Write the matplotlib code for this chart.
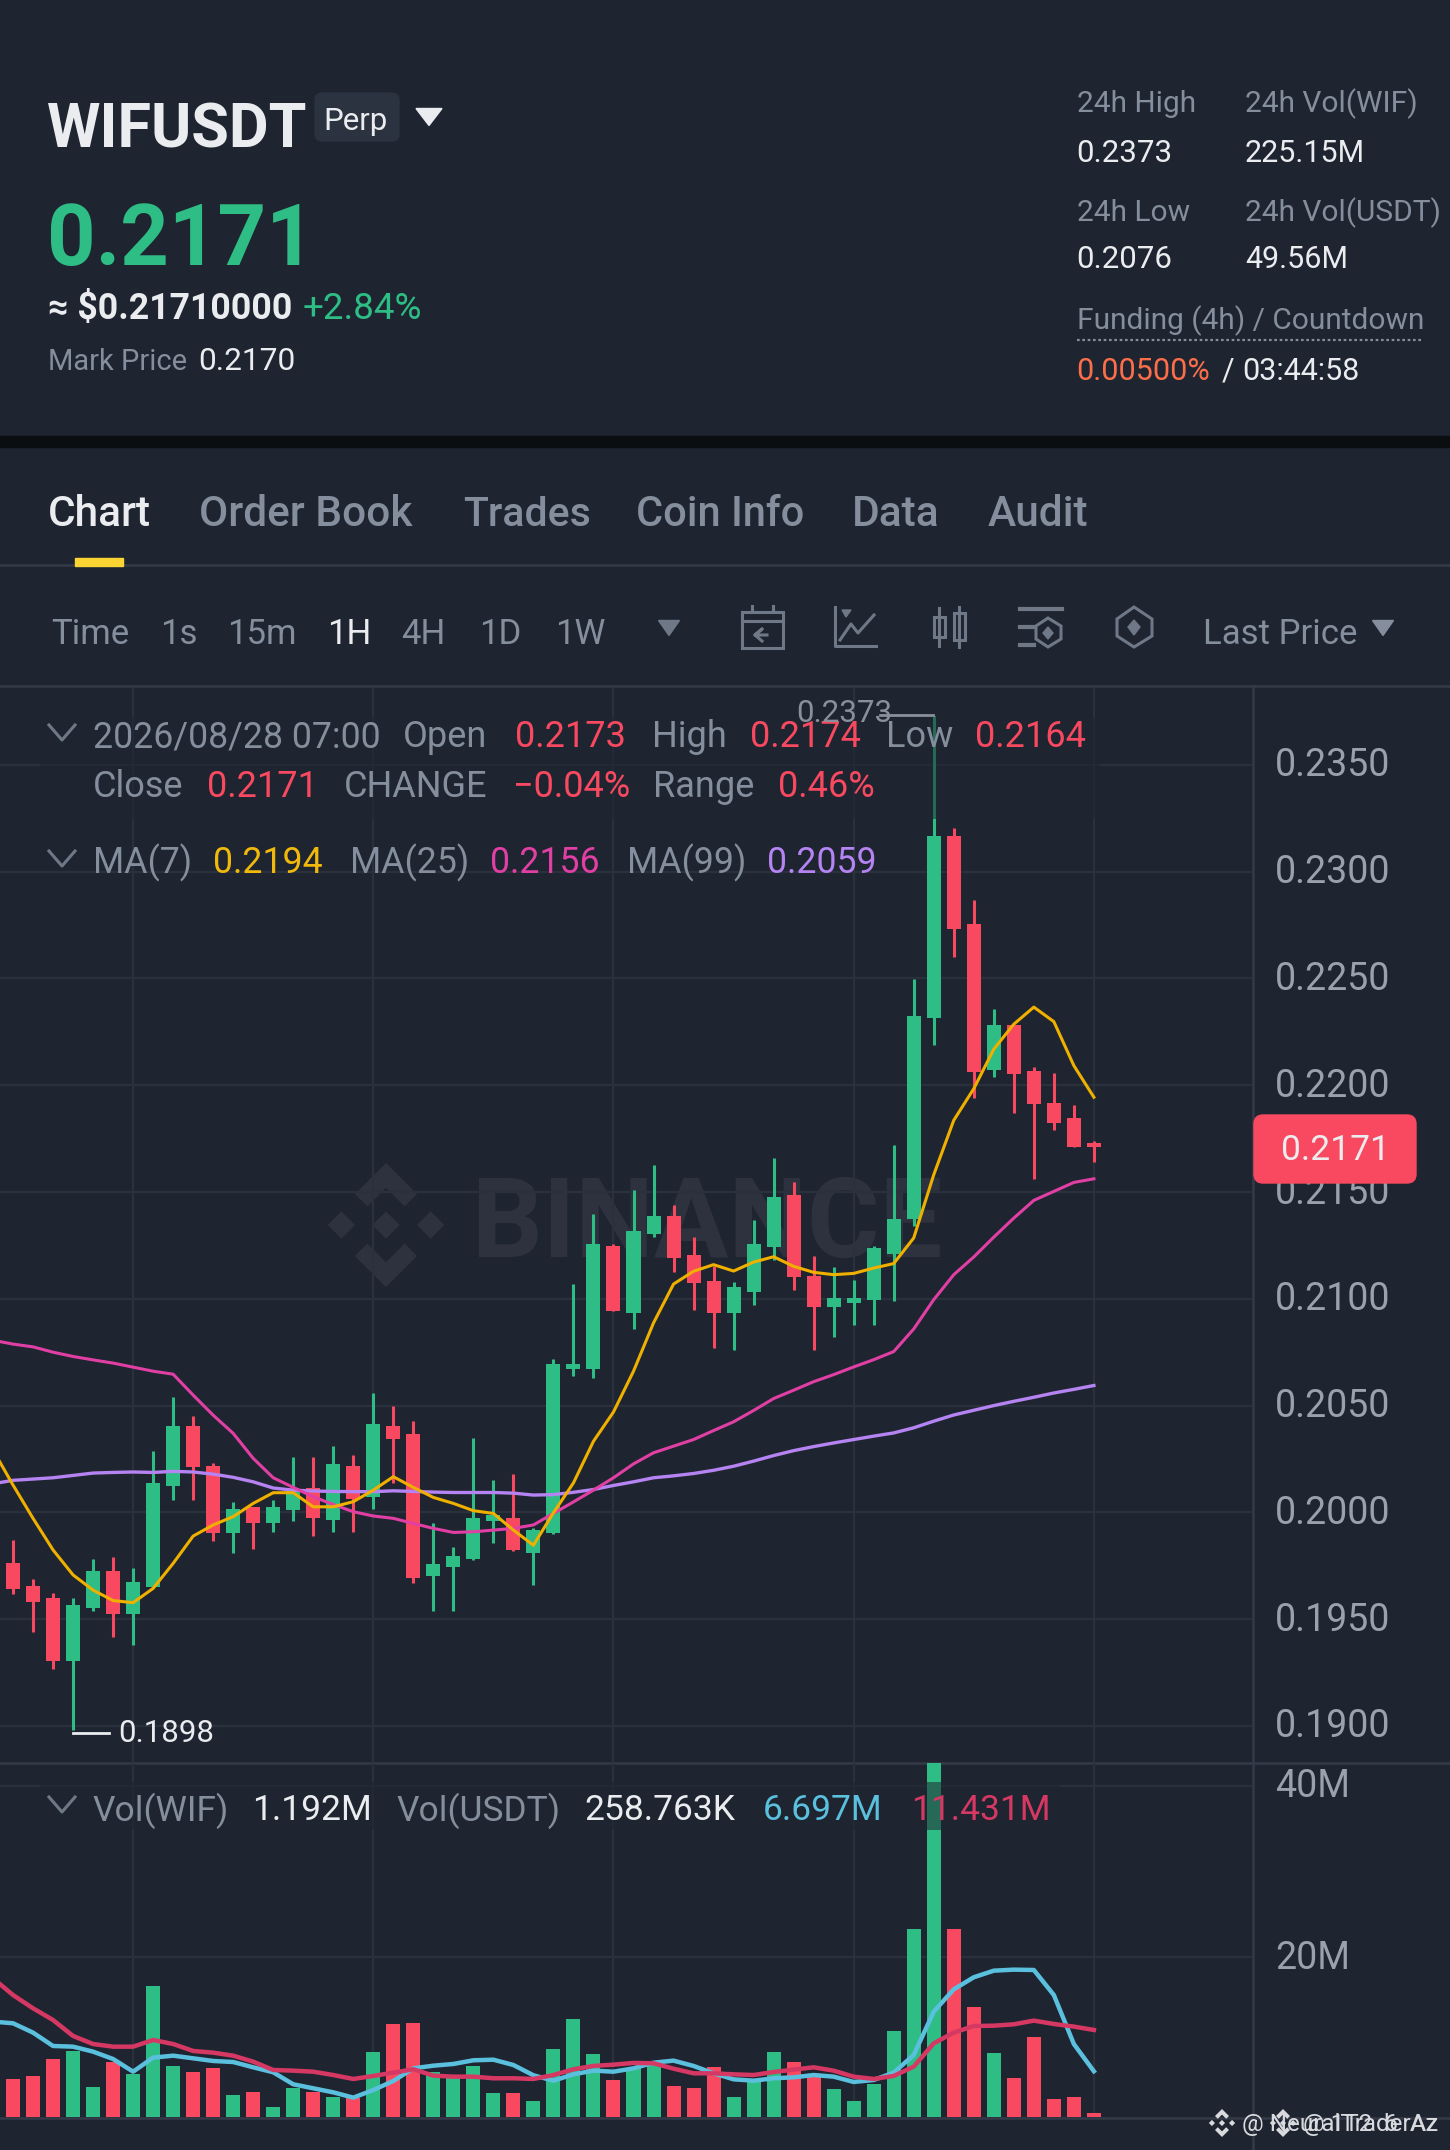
import matplotlib
matplotlib.use('Agg')
import matplotlib.pyplot as plt
from matplotlib.patches import Polygon, Rectangle, FancyBboxPatch
from matplotlib.transforms import ScaledTranslation

plt.rcParams['font.family'] = ['Roboto', 'DejaVu Sans']

# Hourly candles
highs = [.1987, .1969, .19621, .19601, .1978, .19791, .19738, .20287, .20538, .20449,
         .20229, .20048, .20026, .20058, .20257, .20257, .20309, .20267, .20557, .20498,
         .20427, .19948, .19839, .20348, .2015, .20179, .19927, .20718, .21071, .21399,
         .21258, .21509, .21628, .21439, .21289, .21152, .21079, .21369, .21658, .21548,
         .21199, .21149, .2109, .21249, .21718, .22497, .2373, .23207, .22868, .22358,
         .22284, .22087, .22058, .21908, .2174]
lows = [.19618, .1944, .19268, .1898, .1954, .19418, .19381, .19652, .20058, .20058,
        .19867, .19808, .19828, .19909, .19959, .19889, .19909, .19909, .20017, .20139,
        .19668, .1954, .1954, .19777, .19858, .19819, .1966, .199, .2064, .2063,
        .20943, .20859, .21289, .21127, .20949, .2077, .20759, .2097, .2118, .2104,
        .20759, .2082, .20879, .20879, .20988, .21342, .22189, .226, .21939, .22039,
        .21869, .2156, .2179, .2171, .2164]
opens = [.19764, .19655, .19597, .19304, .19552, .19725, .19524, .19652, .20123, .20406,
         .20215, .19903, .20025, .19952, .20011, .20112, .19963, .20215, .20072, .20404,
         .20365, .19702, .19743, .19782, .19958, .19975, .19811, .19904, .20669, .20673,
         .21246, .20934, .21302, .21386, .21207, .21085, .20934, .21034, .21243, .21484,
         .21107, .20963, .20979, .20995, .21211, .21374, .22313, .23165, .22755, .22073,
         .22284, .22065, .21915, .21845, .2173]
closes = [.19643, .19582, .19304, .19566, .19725, .19524, .19675, .20136, .20406, .20212,
          .19902, .20016, .19952, .20025, .20101, .19972, .20225, .20062, .20413, .20342,
          .19693, .19757, .19796, .19975, .19987, .19822, .19916, .20697, .20697, .21257,
          .20943, .21316, .21386, .21193, .21073, .20934, .21055, .21257, .21477, .21102,
          .20963, .21005, .21005, .21236, .21375, .22326, .23165, .22732, .22063, .22284,
          .22052, .21913, .21823, .21713, .2171]

# Moving averages start one candle before the first visible one
ma7 = [.20292, .20128, .19972, .19824, .19707, .19636, .19587, .19577, .19644, .19761,
       .19889, .19941, .1998, .20042, .20092, .20092, .20026, .20026, .2005, .20104,
       .20167, .20117, .2007, .20042, .20008, .19995, .19917, .19846, .19998, .20138,
       .20333, .2047, .20661, .20887, .21069, .21129, .2116, .2113, .21172, .21197,
       .21152, .21124, .21113, .21119, .21144, .21165, .21285, .21581, .21836, .21984,
       .22169, .22286, .22366, .22298, .22092, .21944]
ma25 = [.20806, .20788, .20775, .2075, .2073, .20714, .20699, .2068, .20661, .20647,
        .20549, .20455, .2037, .20253, .20162, .20117, .20073, .20037, .20003, .19983,
        .19972, .19948, .19925, .19906, .19909, .19917, .19925, .19941, .19995, .20049,
        .20104, .20162, .20227, .20279, .2031, .20341, .20383, .20424, .20477, .20533,
        .20572, .20612, .20645, .20681, .20715, .20753, .20859, .20996, .21113, .21196,
        .21289, .21378, .21461, .21503, .21545, .21562]
ma99 = [.20134, .2015, .20156, .20162, .20173, .20184, .20187, .20189, .20187, .20192,
        .20189, .20179, .20164, .20143, .20114, .20104, .201, .20098, .20097, .20097,
        .20101, .20098, .20095, .20093, .20093, .20093, .2009, .20081, .20083, .20094,
        .20107, .20126, .20143, .20162, .20171, .20182, .20197, .20216, .2024, .20266,
        .20289, .20308, .20325, .20341, .20357, .20372, .20396, .20427, .20456, .20478,
        .205, .2052, .20539, .20559, .20576, .20594]

# Volume in millions
volumes = [5.76, 6.19, 8.17, 9.07, 4.86, 7.82, 6.34, 16.61, 7.28, 6.65,
           7.12, 3.93, 4.28, 2.49, 4.79, 4.28, 3.66, 3.54, 8.95, 12.18,
           12.33, 6.65, 5.88, 7.32, 4.12, 4.2, 3.23, 9.3, 12.8, 8.68,
           5.72, 7.04, 7.43, 5.02, 4.75, 7.2, 3.66, 5.49, 8.95, 7.78,
           6.07, 4.67, 3.27, 5.18, 11.4, 23.35, 44, 23.31, 14.16, 8.87,
           5.95, 10.74, 3.5, 3.7, 1.79]
vol_ma5 = [12.49, 12.3, 11.21, 9.65, 9.57, 8.99, 8.13, 6.65, 8.29, 8.52,
           8.21, 7.9, 7.78, 7.16, 6.58, 5.18, 4.71, 4.24, 3.62, 4.51,
           5.56, 7.04, 7.35, 7.55, 7.98, 8.05, 7.43, 6.23, 5.6, 6.34,
           6.77, 6.65, 7.04, 7.7, 7.94, 7.32, 6.46, 5.76, 5.6, 5.88,
           5.99, 6.26, 6.07, 5.45, 5.68, 6.54, 8.6, 13.66, 16.26, 17.67,
           18.44, 18.56, 18.52, 15.6, 9.88, 6.7]
vol_ma10 = [17.55, 15.6, 14.05, 12.68, 10.82, 9.88, 9.57, 9.57, 10.35, 9.88,
            9.07, 8.87, 8.52, 7.82, 6.85, 6.77, 6.65, 6.26, 5.8, 6.15,
            6.54, 6.93, 6.19, 6.07, 6.07, 5.88, 5.88, 5.8, 6.26, 6.93,
            7.32, 7.47, 7.67, 7.63, 7.0, 6.46, 6.46, 6.34, 6.26, 6.61,
            6.89, 7.16, 6.77, 6.07, 5.8, 6.15, 7.24, 9.96, 11.21, 11.98,
            12.02, 12.18, 12.61, 12.22, 11.91, 11.52]

price_ticks = [.19, .195, .2, .205, .21, .215, .22, .225, .23, .235]
vol_ticks = [20, 40]
grid_candles = [6, 18, 30, 42, 54]

BG = '#1e2530'
GRID = '#2a303c'
LINE = '#343a47'
GREEN = '#2ebd85'
RED = '#f84960'
GREY = '#848e9c'
WHITE = '#eaecef'
W, H = 1450, 2150

fig = plt.figure(figsize=(W / 100, H / 100), dpi=100, facecolor=BG)


def pane(top, bottom, z):
    # axes placed by pixel rows, right edge at the price scale
    return fig.add_axes([0, 1 - bottom / H, 1253 / W, (bottom - top) / H], zorder=z, facecolor='none')


def exchange_logo(ax, cx, cy, r, color):
    # centre and side diamonds plus the top and bottom chevrons
    s = r * 0.22
    for dx, dy in [(0, 0), (-r * 0.72, 0), (r * 0.72, 0)]:
        ax.add_patch(Polygon([(cx + dx, cy + dy - s), (cx + dx + s, cy + dy), (cx + dx, cy + dy + s),
                              (cx + dx - s, cy + dy)], color=color, lw=0))
    for sign in [-1, 1]:
        ax.add_patch(Polygon([(cx, cy + sign * r), (cx + r * 0.5, cy + sign * r * 0.5), (cx + r * 0.3, cy + sign * r * 0.3),
                              (cx, cy + sign * r * 0.6), (cx - r * 0.3, cy + sign * r * 0.3),
                              (cx - r * 0.5, cy + sign * r * 0.5)], color=color, lw=0))


# page furniture behind the charts
back = fig.add_axes([0, 0, 1, 1], zorder=0)
back.set_xlim(0, W)
back.set_ylim(H, 0)
back.axis('off')
back.add_patch(Rectangle((0, 436), W, 11, color='#0b0e11'))
for y in [565, 686, 1763, 2118]:
    back.plot([0, W], [y, y], color=LINE, lw=1.8)
back.plot([1253, 1253], [686, H], color=LINE, lw=1.8)

# faint exchange mark
exchange_logo(back, 386, 1225, 62, '#2d323e')
back.text(472, 1226, 'BINANCE', color='#2d323e', fontsize=80, fontweight='bold', va='center', ha='left')

# candles
price_ax = pane(687, 1762, 2)
xs = list(range(len(closes)))
colors = [GREEN if c >= o else RED for o, c in zip(opens, closes)]
price_ax.vlines(xs, lows, highs, colors=colors, lw=2.2, zorder=3)
price_ax.bar(xs, [abs(c - o) for o, c in zip(opens, closes)], bottom=[min(o, c) for o, c in zip(opens, closes)],
             width=0.7, color=colors, zorder=4)
ma_xs = list(range(-1, len(closes)))
price_ax.plot(ma_xs, ma99, color='#b583f2', lw=2.4, zorder=5)
price_ax.plot(ma_xs, ma25, color='#e23fa5', lw=2.2, zorder=6)
price_ax.plot(ma_xs, ma7, color='#f0b000', lw=2.2, zorder=7)
price_ax.set_xlim(-0.65, 61.95)
price_ax.set_ylim(.18831, .23865)
price_ax.set_yticks(price_ticks)
price_ax.set_yticklabels(['%.4f' % t for t in price_ticks])
price_ax.set_xticks(grid_candles)
price_ax.set_xticklabels([])

# volume
vol_ax = pane(1763, 2117, 3)
vol_ax.bar(xs, volumes, width=0.7, color=colors, zorder=3)
vol_ax.plot(ma_xs, vol_ma5, color='#5bc0de', lw=3.2, zorder=5)
vol_ax.plot(ma_xs, vol_ma10, color='#d63864', lw=3.2, zorder=6)
vol_ax.set_xlim(-0.65, 61.95)
vol_ax.set_ylim(1.36, 42.68)
vol_ax.set_yticks(vol_ticks)
vol_ax.set_yticklabels(['%dM' % t for t in vol_ticks])
vol_ax.set_xticks(grid_candles)
vol_ax.set_xticklabels([])

for ax in [price_ax, vol_ax]:
    ax.yaxis.tick_right()
    ax.grid(True, color=GRID, lw=1.6, zorder=0)
    ax.set_axisbelow(True)
    ax.tick_params(axis='both', length=0)
    ax.tick_params(axis='y', labelcolor='#9aa1ad', labelsize=27, pad=16)
    for s in ax.spines.values():
        s.set_visible(False)
    # the scale labels sit a little above their grid lines
    for t in ax.get_yticklabels():
        t.set_transform(t.get_transform() + ScaledTranslation(0, 3 / 100, fig.dpi_scale_trans))

# header, legends and tags go on top of the charts
top = fig.add_axes([0, 0, 1, 1], zorder=5, facecolor='none')
top.set_xlim(0, W)
top.set_ylim(H, 0)
top.axis('off')


def label(x, y, s, color=GREY, size=24, weight='normal', ha='left'):
    top.text(x, y, s, color=color, fontsize=size, fontweight=weight, ha=ha, va='center')


def triangle(cx, cy, w, h, color):
    top.add_patch(Polygon([(cx - w / 2, cy - h / 2), (cx + w / 2, cy - h / 2), (cx, cy + h / 2)], color=color))


def chevron(cx, cy):
    top.plot([cx - 13, cx, cx + 13], [cy - 8, cy + 7, cy - 8], color='#6f7887', lw=2.2)


# ticker block
label(47, 131, 'WIFUSDT', WHITE, 44, 'bold')
top.add_patch(FancyBboxPatch((315, 93), 84, 48, boxstyle='round,pad=0,rounding_size=7', color='#2b3240'))
label(356, 121, 'Perp', WHITE, 22.5, ha='center')
triangle(429, 117, 26, 17, WHITE)
label(47, 242, '0.2171', GREEN, 61, 'bold')
label(48, 309, '≈ $0.21710000', WHITE, 25.7, 'bold')
label(303, 309, '+2.84%', GREEN, 26.5)
label(48, 362, 'Mark Price', GREY, 21)
label(198, 362, '0.2170', WHITE, 22.8)

label(1077, 104, '24h High', GREY, 21.5)
label(1245, 104, '24h Vol(WIF)', GREY, 21.5)
label(1076, 153, '0.2373', WHITE, 22.5)
label(1245, 153, '225.15M', WHITE, 22)
label(1077, 213, '24h Low', GREY, 21.5)
label(1245, 213, '24h Vol(USDT)', GREY, 21.5)
label(1076, 260, '0.2076', WHITE, 22.5)
label(1245, 260, '49.56M', WHITE, 22)
label(1077, 321, 'Funding (4h) / Countdown', GREY, 21.5)
top.plot([1077, 1421], [340, 340], color=GREY, lw=1.6, linestyle=(0, (1.2, 1.2)))
label(1076, 371, '0.00500%', '#fc6e4a', 22)
label(1222, 371, '/', WHITE, 22)
label(1242, 371, '03:44:58', WHITE, 22)

# tabs
for x, s, c, size in [(48, 'Chart', WHITE, 30.5), (199, 'Order Book', GREY, 30.5), (463, 'Trades', GREY, 29.5),
                      (636, 'Coin Info', GREY, 30), (852, 'Data', GREY, 30.5), (988, 'Audit', GREY, 30.5)]:
    label(x, 515, s, c, size, 'medium')
top.add_patch(Rectangle((75, 558), 48, 8, color='#fcd535'))

# timeframe row
for x, s, c in [(51, 'Time', GREY), (160, '1s', GREY), (227, '15m', GREY), (327, '1H', WHITE),
                (401, '4H', GREY), (479, '1D', GREY), (555, '1W', GREY), (1203, 'Last Price', GREY)]:
    label(x, 634, s, c, 25)
triangle(669, 628, 21, 15, '#6f7887')
triangle(1383, 628, 21, 15, '#848e9c')

# toolbar icons
icon = '#6f7887'
top.add_patch(Rectangle((742, 612), 41, 36, fill=False, edgecolor=icon, lw=2.2))
top.plot([742, 783], [621, 621], color=icon, lw=2.2)
top.plot([752, 752], [606, 612], color=icon, lw=2.2)
top.plot([773, 773], [606, 612], color=icon, lw=2.2)
top.plot([767, 755, 762, 755, 762], [635, 635, 629, 635, 641], color=icon, lw=2.2)
top.plot([835, 835, 876], [607, 646, 646], color=icon, lw=2.2)
top.plot([840, 851, 858, 874], [640, 624, 633, 615], color=icon, lw=2.2)
top.add_patch(Polygon([(842, 610), (851, 610), (846, 617)], color=icon))
top.add_patch(Rectangle((934, 617), 11, 20, fill=False, edgecolor=icon, lw=2.2))
top.add_patch(Rectangle((954, 613), 11, 27, fill=False, edgecolor=icon, lw=2.2))
top.plot([939.5, 939.5], [608, 646], color=icon, lw=2.2)
top.plot([959.5, 959.5], [607, 647], color=icon, lw=2.2)
top.plot([1020, 1062], [609, 609], color=icon, lw=3)
top.plot([1020, 1034], [627, 627], color=icon, lw=3)
top.plot([1020, 1034], [645, 645], color=icon, lw=3)
top.add_patch(Polygon([(1048, 618), (1061, 626), (1061, 639), (1048, 647), (1036, 639), (1036, 626)],
                      fill=False, edgecolor=icon, lw=2.2))
top.add_patch(Polygon([(1048, 627), (1053, 633), (1048, 639), (1043, 633)], color=icon))
top.add_patch(Polygon([(1134, 607), (1152, 619), (1152, 636), (1134, 647), (1117, 636), (1117, 619)],
                      fill=False, edgecolor=icon, lw=2.2))
top.add_patch(Polygon([(1134, 620), (1140, 627), (1134, 635), (1128, 627)], color=icon))

# dim the chart behind the legends
top.add_patch(Rectangle((40, 717), 1060, 102, color=BG, alpha=0.55, lw=0))
top.add_patch(Rectangle((40, 1782), 1020, 48, color=BG, alpha=0.55, lw=0))

# OHLC legend
chevron(62, 733)
label(93, 737, '2026/08/28 07:00', GREY, 25.7)
for x, y, s, c in [(403, 737, 'Open', GREY), (515, 737, '0.2173', RED),
                   (652, 737, 'High', GREY), (750, 737, '0.2174', RED), (886, 737, 'Low', GREY),
                   (975, 737, '0.2164', RED), (93, 787, 'Close', GREY), (207, 787, '0.2171', RED),
                   (344, 787, 'CHANGE', GREY), (513, 787, '−0.04%', RED), (653, 787, 'Range', GREY),
                   (778, 787, '0.46%', RED)]:
    label(x, y, s, c, 26)
chevron(62, 859)
for x, s, c in [(93, 'MA(7)', GREY), (213, '0.2194', '#f0b90b'), (350, 'MA(25)', GREY),
                (490, '0.2156', '#e23fa5'), (627, 'MA(99)', GREY), (767, '0.2059', '#b583f2')]:
    label(x, 863, s, c, 25.7)

# high and low markers
label(796, 713, '0.2373', '#8a909b', 22.5)
top.plot([880, 933], [715, 715], color='#8a909b', lw=2)
top.plot([73, 109], [1733, 1733], color=WHITE, lw=2)
label(118, 1733, '0.1898', WHITE, 22.5)

# last price tag
top.add_patch(FancyBboxPatch((1254, 1115), 162, 68, boxstyle='round,pad=0,rounding_size=9', color=RED))
label(1335, 1150, '0.2171', WHITE, 25.5, ha='center')

# volume legend
chevron(62, 1805)
for x, s, c in [(93, 'Vol(WIF)', GREY), (252, '1.192M', WHITE), (397, 'Vol(USDT)', GREY),
                (584, '258.763K', WHITE), (763, '6.697M', '#5bc0de'), (911, '11.431M', '#d63864')]:
    label(x, 1811, s, c, 25.5)

# repost watermarks, overlapping each other
exchange_logo(top, 1222, 2123, 14, '#d8dade')
exchange_logo(top, 1283, 2123, 14, '#d8dade')
label(1242, 2124, '@ NeuralTraderAz', '#d8dade', 17.4)
label(1303, 2124, '@ 1T2  6  Az', '#d8dade', 17.4)

fig.savefig('out.png', dpi=100, facecolor=BG)
